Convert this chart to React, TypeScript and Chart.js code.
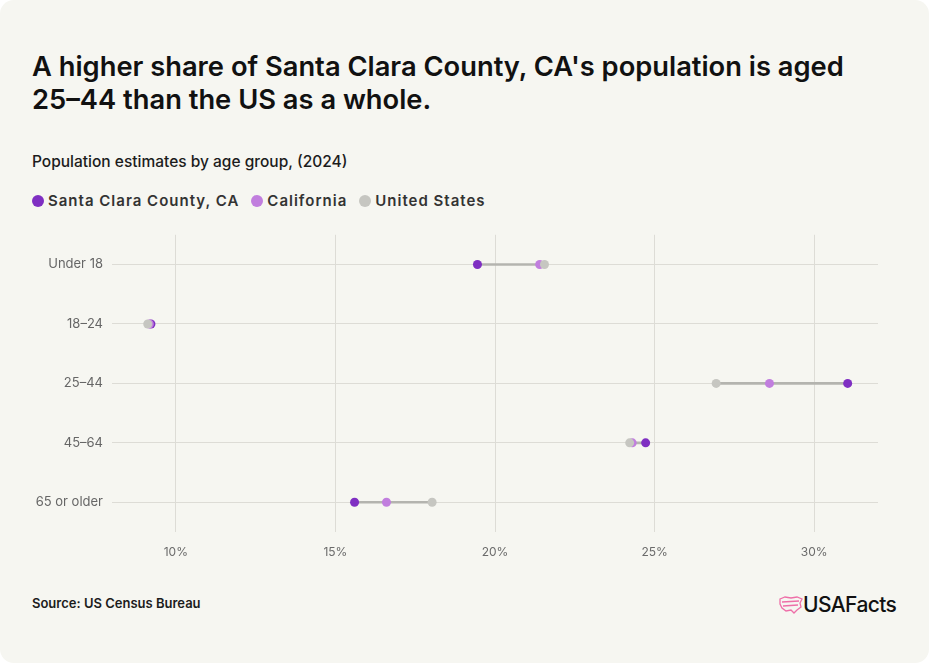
import React, { useEffect, useRef } from "react";
import { Chart, registerables } from "chart.js";

Chart.register(...registerables);

const ageGroups = ["Under 18", "18–24", "25–44", "45–64", "65 or older"];
const santaClara = [19.45, 9.22, 31.05, 24.72, 15.6];
const california = [21.4, 9.17, 28.6, 24.3, 16.6];
const unitedStates = [21.55, 9.12, 26.93, 24.22, 18.03];
const xTicks = [10, 15, 20, 25, 30];

const seriesNames = ["Santa Clara County, CA", "California", "United States"];
const seriesColors = ["#7f2fc2", "#c17ede", "#c6c6c1"];

const FONT = "Inter, 'Noto Sans', sans-serif";

export default function App() {
  const canvasRef = useRef<HTMLCanvasElement | null>(null);

  useEffect(() => {
    const ranges = ageGroups.map((_, i) => {
      const vals = [santaClara[i], california[i], unitedStates[i]];
      return [Math.min(...vals), Math.max(...vals)];
    });
    const pointDs = (i: number, data: number[], order: number) =>
      ({
        type: "line",
        label: seriesNames[i],
        data,
        showLine: false,
        pointRadius: 4.5,
        pointBorderWidth: 0,
        pointBackgroundColor: seriesColors[i],
        backgroundColor: seriesColors[i],
        order,
      } as any);
    const chart = new Chart(canvasRef.current!, {
      type: "bar",
      data: {
        labels: ageGroups,
        datasets: [
          pointDs(0, santaClara, 3),
          pointDs(1, california, 2),
          pointDs(2, unitedStates, 1),
          {
            type: "bar",
            label: "range",
            data: ranges as any,
            backgroundColor: "#b4b4af",
            barThickness: 2,
            order: 4,
          } as any,
        ],
      },
      options: {
        indexAxis: "y",
        animation: false,
        responsive: false,
        maintainAspectRatio: false,
        layout: { padding: { top: 4, right: 51, left: 0, bottom: 0 } },
        plugins: { legend: { display: false }, tooltip: { enabled: false } },
        scales: {
          x: {
            type: "linear",
            min: 8,
            max: 32,
            afterBuildTicks: (s: any) => {
              s.ticks = xTicks.map((v) => ({ value: v }));
            },
            afterFit: (s: any) => {
              s.height = 38;
            },
            border: { display: false },
            grid: { color: "#dddcd6", drawTicks: false, lineWidth: 1 },
            ticks: {
              padding: 13,
              color: "#6b6b6b",
              font: { family: FONT, size: 12 },
              callback: (v: any) => v + "%",
            },
          },
          y: {
            type: "category",
            afterFit: (s: any) => {
              s.width = 112;
            },
            border: { display: false },
            grid: { color: "#dddcd6", drawTicks: false, offset: false },
            ticks: {
              padding: 9,
              color: "#666666",
              font: { family: FONT, size: 13 },
            },
          },
        },
      },
    });
    return () => chart.destroy();
  }, []);

  return (
    <div
      style={{
        position: "absolute",
        left: 0,
        top: 0,
        width: 929,
        height: 663,
        background: "#f6f6f1",
        borderRadius: 14,
        overflow: "hidden",
        fontFamily: FONT,
      }}
    >
      <div
        style={{
          position: "absolute",
          left: 32,
          top: 50,
          fontSize: 27.3,
          fontWeight: 600,
          lineHeight: "33px",
          color: "#111",
          letterSpacing: 0,
        }}
      >
        A higher share of Santa Clara County, CA's population is aged
        <br />
        25–44 than the US as a whole.
      </div>
      <div
        style={{
          position: "absolute",
          left: 32,
          top: 152,
          fontSize: 15.5,
          fontWeight: 500,
          color: "#1c1c1c",
        }}
      >
        Population estimates by age group, (2024)
      </div>
      <div
        style={{
          position: "absolute",
          left: 32,
          top: 191,
          display: "flex",
          alignItems: "center",
          fontSize: 15,
          fontWeight: 600,
          letterSpacing: 1,
          color: "#333",
        }}
      >
        {seriesNames.map((n, i) => (
          <div key={n} style={{ display: "flex", alignItems: "center", marginRight: 12 }}>
            <span
              style={{
                width: 12,
                height: 12,
                borderRadius: 6,
                background: seriesColors[i],
                display: "inline-block",
                marginRight: 4,
              }}
            />
            <span>{n}</span>
          </div>
        ))}
      </div>
      <canvas
        ref={canvasRef}
        width={929}
        height={352}
        style={{ position: "absolute", left: 0, top: 218, width: 929, height: 352 }}
      />
      <div
        style={{
          position: "absolute",
          left: 32,
          top: 595,
          fontSize: 13,
          fontWeight: 600,
          color: "#1c1c1c",
        }}
      >
        Source: US Census Bureau
      </div>
      <div
        style={{
          position: "absolute",
          left: 779,
          top: 592,
          display: "flex",
          alignItems: "center",
        }}
      >
        <svg width="24" height="18" viewBox="0 0 24 18">
          <path
            d="M1 3 L6 1 L12 2 L18 1 L23 3 L21 7 L22 11 L18 14 L15 17 L12 14 L7 15 L3 12 L1 8 Z M3 6 L20 5 M4 10 L19 9"
            fill="none"
            stroke="#ee6fa8"
            strokeWidth="1.3"
          />
        </svg>
        <span
          style={{
            fontSize: 21,
            fontWeight: 500,
            color: "#111",
            marginLeft: 0,
            letterSpacing: -0.6,
          }}
        >
          USAFacts
        </span>
      </div>
    </div>
  );
}
